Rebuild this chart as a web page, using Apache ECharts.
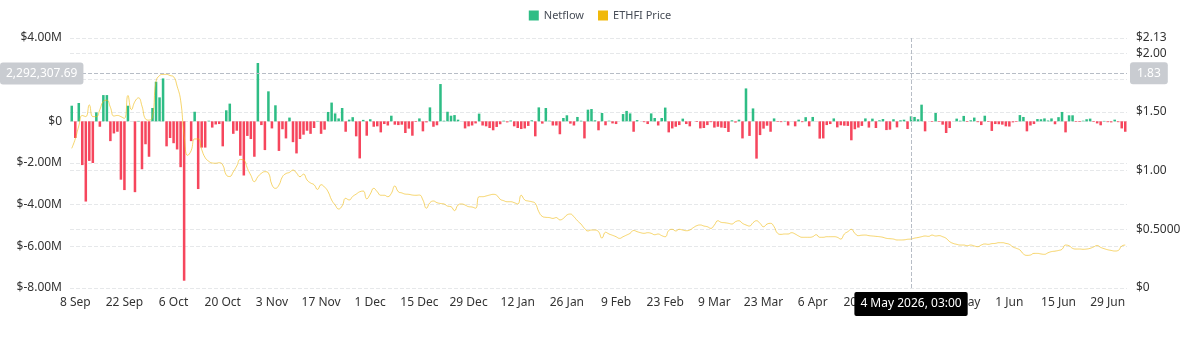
<!DOCTYPE html>
<html>
<head>
<meta charset="utf-8">
<title>ETHFI Netflow</title>
<script src="https://cdn.jsdelivr.net/npm/echarts@6/dist/echarts.min.js"></script>
<style>
  html, body { margin: 0; padding: 0; background: #fff; }
  #chart { width: 1200px; height: 340px; }
</style>
</head>
<body>
<div id="chart"></div>
<script>
// first day of the series, one bar per day after it
var startDate = '2025-09-07';

// daily netflow, millions of USD
var netflowM = [
  0.75, -0.8, 0.88, -2.1, -3.85, -1.9, -2.0, 0.43, -0.26, 1.26,
  1.26, -0.95, -0.58, -0.5, -2.8, -3.3, 0.75, 0, -3.4, 0.02,
  -2.3, -1.1, -1.7, 0.64, 1.9, 1.15, 2.06, -1.2, -0.8, -1.05,
  -1.35, -2.2, -7.65, 0, -0.95, 0.46, -3.25, -1.26, -1.26, 0.03,
  -0.3, -0.15, -0.13, -1.2, 0.53, 0.85, -0.6, -0.45, -1.65, -2.6,
  -0.7, -0.85, -1.7, 2.8, -0.18, -1.38, 1.44, -0.34, 0.77, -1.42,
  -0.38, -0.82, 0.18, -1.0, -1.54, -0.85, -0.64, -0.45, -0.6, -0.32,
  0.02, -0.6, -0.4, 0.45, 0.9, 0.38, 0.14, 0.64, -0.5, 0.08,
  0.2, -0.72, -1.78, 0.07, -0.69, 0.1, -0.26, -0.24, -0.53, -0.13,
  -0.2, 0.27, -0.16, -0.18, -0.16, -0.56, -0.35, -0.69, -0.03, 0.14,
  -0.48, -0.05, 0.67, -0.26, -0.19, 1.79, 0.03, 0.46, 0.27, 0.3,
  0.08, 0, -0.34, -0.24, -0.2, -0.1, 0.37, -0.2, -0.24, -0.32,
  -0.43, -0.27, -0.14, 0.03, -0.05, 0.04, -0.24, -0.32, -0.37, -0.34,
  -0.22, 0.05, -0.72, 0.67, -0.11, 0.64, 0.03, -0.2, -0.2, -0.62,
  0.16, 0.29, -0.11, -0.2, 0.21, 0.03, -0.82, 0.56, 0.59, 0.05,
  -0.43, 0.4, -0.19, 0.03, -0.1, -0.13, 0, 0.35, 0.5, 0.38,
  -0.5, 0.06, 0, -0.04, -0.13, 0.38, 0.16, -0.2, 0.16, 0.66,
  -0.53, -0.34, -0.26, -0.18, 0.13, -0.13, -0.24, 0, -0.03, -0.34,
  -0.32, -0.18, -0.04, -0.3, -0.26, -0.3, -0.32, -0.51, 0.05, -0.06,
  0.08, -0.82, 1.58, -0.7, 0.62, -1.79, -0.66, -0.35, -0.21, -0.5,
  0.14, -0.03, -0.04, 0.02, -0.2, 0, -0.24, 0.08, -0.04, 0.2,
  -0.24, 0.21, 0, -0.83, -0.82, -0.18, -0.13, 0.14, -0.29, -0.19,
  -0.21, -0.22, -0.91, -0.38, -0.3, -0.22, 0.14, -0.3, 0.13, -0.32,
  0.05, 0.11, -0.42, -0.4, 0.1, -0.29, 0.05, 0.08, -0.37, 0.24,
  0.21, 0.1, 0.8, -0.48, 0, -0.03, 0.4, -0.03, -0.16, -0.56,
  -0.32, 0, 0.13, 0.03, 0.26, -0.03, 0.05, 0.18, -0.04, -0.18,
  0.27, -0.03, -0.46, -0.13, -0.14, -0.16, -0.24, -0.25, -0.05, -0.03,
  0.3, 0.21, -0.48, -0.2, -0.13, 0.11, 0.1, 0.14, 0.04, 0.14,
  -0.14, 0.2, 0.45, -0.53, 0.29, 0.29, -0.03, -0.03, 0.03, 0.1,
  0.13, -0.03, -0.1, -0.19, 0.02, -0.04, -0.05, 0.08, -0.04, -0.34,
  -0.5
];

// daily ETHFI price, USD
var price = [
  1.19, 1.27, 1.38, 1.47, 1.46, 1.56, 1.46, 1.46, 1.52, 1.59,
  1.60, 1.54, 1.465, 1.47, 1.46, 1.445, 1.64, 1.52, 1.59, 1.62,
  1.55, 1.44, 1.43, 1.46, 1.76, 1.81, 1.82, 1.82, 1.81, 1.80,
  1.72, 1.60, 1.30, 1.13, 1.17, 1.27, 1.27, 1.18, 1.11, 1.08,
  1.065, 1.063, 1.067, 1.048, 0.963, 0.95, 0.99, 1.04, 1.095, 1.09,
  1.02, 0.96, 0.906, 0.948, 0.977, 0.991, 0.98, 0.88, 0.849, 0.877,
  0.948, 0.975, 0.985, 1.005, 0.98, 0.948, 0.97, 0.92, 0.895, 0.88,
  0.84, 0.88, 0.86, 0.82, 0.75, 0.707, 0.673, 0.70, 0.764, 0.75,
  0.78, 0.80, 0.82, 0.826, 0.76, 0.80, 0.849, 0.82, 0.79, 0.79,
  0.778, 0.806, 0.869, 0.82, 0.81, 0.80, 0.798, 0.792, 0.79, 0.792,
  0.75, 0.68, 0.727, 0.741, 0.727, 0.72, 0.716, 0.698, 0.693, 0.659,
  0.707, 0.716, 0.707, 0.693, 0.69, 0.68, 0.778, 0.778, 0.784, 0.792,
  0.798, 0.79, 0.756, 0.744, 0.735, 0.735, 0.727, 0.716, 0.79, 0.75,
  0.741, 0.735, 0.721, 0.65, 0.61, 0.602, 0.60, 0.593, 0.60, 0.58,
  0.593, 0.622, 0.63, 0.607, 0.573, 0.545, 0.508, 0.486, 0.494, 0.494,
  0.48, 0.425, 0.475, 0.46, 0.449, 0.437, 0.423, 0.437, 0.451, 0.466,
  0.49, 0.48, 0.471, 0.466, 0.471, 0.466, 0.454, 0.46, 0.446, 0.437,
  0.49, 0.50, 0.486, 0.50, 0.494, 0.488, 0.494, 0.514, 0.531, 0.537,
  0.528, 0.522, 0.508, 0.537, 0.573, 0.559, 0.556, 0.551, 0.545, 0.565,
  0.573, 0.551, 0.537, 0.528, 0.556, 0.573, 0.551, 0.522, 0.545, 0.551,
  0.522, 0.466, 0.457, 0.46, 0.46, 0.471, 0.46, 0.443, 0.432, 0.432,
  0.432, 0.437, 0.454, 0.432, 0.432, 0.437, 0.437, 0.437, 0.432, 0.417,
  0.46, 0.48, 0.50, 0.466, 0.446, 0.45, 0.451, 0.446, 0.443, 0.44,
  0.437, 0.432, 0.423, 0.42, 0.417, 0.409, 0.409, 0.41, 0.415, 0.417,
  0.425, 0.43, 0.437, 0.443, 0.44, 0.451, 0.443, 0.446, 0.437, 0.423,
  0.395, 0.38, 0.372, 0.366, 0.366, 0.36, 0.366, 0.358, 0.352, 0.366,
  0.375, 0.372, 0.378, 0.38, 0.386, 0.386, 0.38, 0.372, 0.35, 0.338,
  0.324, 0.29, 0.278, 0.281, 0.295, 0.295, 0.29, 0.287, 0.30, 0.31,
  0.314, 0.32, 0.33, 0.366, 0.36, 0.338, 0.332, 0.332, 0.33, 0.332,
  0.338, 0.35, 0.362, 0.346, 0.335, 0.326, 0.32, 0.315, 0.32, 0.358,
  0.366
];

// x labels every two weeks from this day
var firstLabelDate = '2025-09-08';
var labelEveryDays = 14;

// hovered point shown by the crosshair
var hoverDate = '2026-05-04';
var hoverTime = '03:00';
var hoverNetflow = 2292307.69;
var hoverPrice = 1.83;

var months = ['Jan', 'Feb', 'Mar', 'Apr', 'May', 'Jun', 'Jul', 'Aug', 'Sep', 'Oct', 'Nov', 'Dec'];
var DAY = 86400000;

function parseDay(s) {
  var p = s.split('-');
  return Date.UTC(+p[0], +p[1] - 1, +p[2]);
}
function isoDay(t) {
  return new Date(t).toISOString().slice(0, 10);
}

var t0 = parseDay(startDate);
var dates = netflowM.map(function (v, i) { return isoDay(t0 + i * DAY); });
var labelStart = parseDay(firstLabelDate);
var hoverIndex = dates.indexOf(hoverDate);

function shortDate(s) {
  var d = new Date(parseDay(s));
  return d.getUTCDate() + ' ' + months[d.getUTCMonth()];
}
function longDate(s) {
  var d = new Date(parseDay(s));
  return d.getUTCDate() + ' ' + months[d.getUTCMonth()] + ' ' + d.getUTCFullYear();
}

var green = '#2EBD85';
var red = '#F6465D';
var yellow = '#F0B90B';
var font = 'Noto Sans, sans-serif';
var gridColor = '#E6E8EA';
var pointerColor = '#B7BDC6';

var chart = echarts.init(document.getElementById('chart'), null, { renderer: 'canvas' });

var option = {
  animation: false,
  textStyle: { fontFamily: font },
  legend: {
    top: 5,
    left: 'center',
    itemWidth: 10,
    itemHeight: 10,
    itemGap: 14,
    icon: 'rect',
    textStyle: { color: '#474D57', fontSize: 11, fontFamily: font },
    data: [
      { name: 'Netflow', itemStyle: { color: green } },
      { name: 'ETHFI Price', itemStyle: { color: yellow } }
    ]
  },
  grid: { left: 70, right: 73, top: 38, bottom: 52 },
  xAxis: {
    type: 'category',
    data: dates,
    boundaryGap: true,
    axisLine: { show: false },
    axisTick: { show: false },
    axisLabel: {
      color: '#333',
      fontSize: 12,
      fontFamily: font,
      margin: 9,
      interval: function (i, v) {
        var d = Math.round((parseDay(v) - labelStart) / DAY);
        return d >= 0 && d % labelEveryDays === 0;
      },
      formatter: function (v) { return shortDate(v); }
    },
    axisPointer: {
      show: true,
      status: 'show',
      value: hoverIndex,
      snap: false,
      triggerTooltip: false,
      type: 'line',
      lineStyle: { color: pointerColor, type: 'dashed', width: 1 },
      label: {
        show: true,
        backgroundColor: '#000',
        color: '#fff',
        fontSize: 12,
        fontFamily: font,
        padding: [6, 6],
        borderRadius: 2,
        margin: 4,
        formatter: function () { return longDate(hoverDate) + ', ' + hoverTime; }
      }
    }
  },
  yAxis: [
    {
      type: 'value',
      min: -8000000,
      max: 4000000,
      interval: 2000000,
      axisLine: { show: false },
      axisTick: { show: false },
      splitLine: { lineStyle: { color: gridColor, type: 'dashed' } },
      axisLabel: {
        color: '#333',
        fontSize: 12,
        fontFamily: font,
        margin: 8,
        formatter: function (v) {
          if (v === 0) return '$0';
          return '$' + (v / 1e6).toFixed(2) + 'M';
        }
      },
      axisPointer: {
        show: true,
        status: 'show',
        value: hoverNetflow,
        snap: false,
        triggerTooltip: false,
        type: 'line',
        lineStyle: { color: pointerColor, type: 'dashed', width: 1 },
        label: {
          show: true,
          backgroundColor: '#C9CCD1',
          color: '#fff',
          fontSize: 12,
          fontFamily: font,
          padding: [5, 6],
          borderRadius: 3,
          margin: -8,
          formatter: function (p) {
            return Number(p.value).toLocaleString('en-US', { minimumFractionDigits: 2, maximumFractionDigits: 2 });
          }
        }
      }
    },
    {
      type: 'value',
      min: 0,
      max: 2.13,
      interval: 0.5,
      axisLine: { show: false },
      axisTick: { show: false },
      splitLine: { lineStyle: { color: gridColor, type: 'dashed' } },
      axisLabel: {
        color: '#333',
        fontSize: 12,
        fontFamily: font,
        margin: 9,
        formatter: function (v) {
          if (v === 0) return '$0';
          if (v < 1) return '$' + v.toFixed(4);
          return '$' + v.toFixed(2);
        }
      },
      axisPointer: {
        show: true,
        status: 'show',
        value: hoverPrice,
        snap: false,
        triggerTooltip: false,
        type: 'line',
        lineStyle: { color: pointerColor, type: 'dashed', width: 1 },
        label: {
          show: true,
          backgroundColor: '#C9CCD1',
          color: '#fff',
          fontSize: 12,
          fontFamily: font,
          padding: [5, 7],
          borderRadius: 3,
          margin: 3,
          formatter: function (p) { return Number(p.value).toFixed(2); }
        }
      }
    }
  ],
  series: [
    {
      name: 'Netflow',
      type: 'bar',
      yAxisIndex: 0,
      barWidth: '72%',
      data: netflowM.map(function (v) { return v * 1e6; }),
      itemStyle: {
        color: function (p) { return p.value >= 0 ? green : red; }
      }
    },
    {
      name: 'ETHFI Price',
      type: 'line',
      yAxisIndex: 1,
      smooth: true,
      showSymbol: false,
      data: price,
      lineStyle: { color: yellow, width: 1, opacity: 0.6 },
      itemStyle: { color: yellow }
    }
  ]
};

chart.setOption(option);
</script>
</body>
</html>
